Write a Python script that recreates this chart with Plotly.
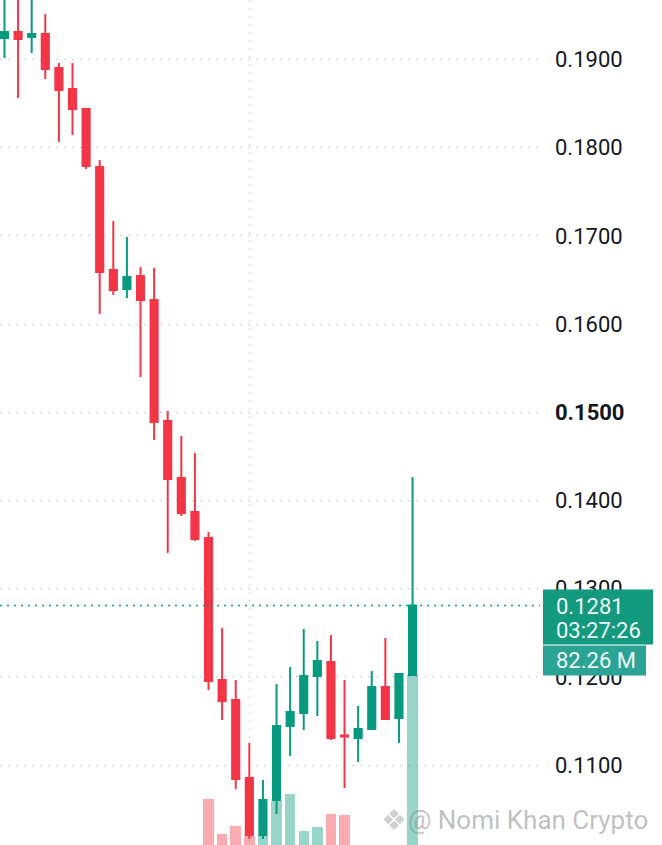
import plotly.graph_objects as go

# candle data (index = bar position on the chart)
bar_idx = list(range(31))
open_ = [0.19244, 0.19312, 0.19255, 0.19289, 0.18904, 0.18666, 0.18439, 0.17781, 0.16613, 0.16398,
         0.16545, 0.16273, 0.14901, 0.14256, 0.13870, 0.13575, 0.11966, 0.11739, 0.10853, 0.10207,
         0.10604, 0.11443, 0.11591, 0.12010, 0.12168, 0.11335, 0.11307, 0.11409, 0.11885, 0.11534,
         0.12021]
high = [0.19850, 0.19900, 0.19850, 0.19516, 0.18960, 0.18960, 0.18450, 0.17861, 0.17169, 0.16988,
        0.16647, 0.16636, 0.15015, 0.14731, 0.14539, 0.13643, 0.12554, 0.11966, 0.11250, 0.10831,
        0.11919, 0.12112, 0.12543, 0.12407, 0.12475, 0.11966, 0.11670, 0.12067, 0.12441, 0.12040,
        0.14266]
low = [0.19017, 0.18563, 0.19074, 0.18779, 0.18065, 0.18144, 0.17758, 0.16114, 0.16330, 0.16296,
       0.15400, 0.14686, 0.13405, 0.13825, 0.13541, 0.11851, 0.11511, 0.10729, 0.10162, 0.10162,
       0.10445, 0.11103, 0.11398, 0.11557, 0.11284, 0.10741, 0.11035, 0.11398, 0.11510, 0.11250,
       0.12021]
close = [0.19312, 0.19232, 0.19289, 0.18892, 0.18654, 0.18439, 0.17792, 0.16591, 0.16387, 0.16534,
         0.16273, 0.14890, 0.14244, 0.13859, 0.13564, 0.11954, 0.11727, 0.10842, 0.10207, 0.10604,
         0.11443, 0.11602, 0.12010, 0.12180, 0.11307, 0.11324, 0.11409, 0.11885, 0.11522, 0.12033,
         0.1281]
# volume in millions, None where the bar sits below the visible area
volume_m = [None] * 15 + [32.5, 18.5, 21.7, 17.7, 18.1, 31.7, 34.5, 19.7, 21.3, 26.5, 26.1,
                          None, None, None, None, 82.26]

price_ticks = [0.11, 0.12, 0.13, 0.14, 0.15, 0.16, 0.17, 0.18, 0.19]
bold_tick = 0.15
countdown = "03:27:26"
watermark = "@ Nomi Khan Crypto"

UP = '#089981'
DOWN = '#f23645'
UP_VOL = 'rgba(8,153,129,0.42)'
DOWN_VOL = 'rgba(242,54,69,0.42)'

fig = go.Figure()

vol_colors = [UP_VOL if c >= o else DOWN_VOL for o, c in zip(open_, close)]
fig.add_trace(go.Bar(
    x=bar_idx, y=[v * 1e6 if v is not None else None for v in volume_m],
    marker=dict(color=vol_colors, line=dict(width=0)),
    width=0.77, yaxis='y2', hoverinfo='skip', showlegend=False
))

fig.add_trace(go.Candlestick(
    x=bar_idx, open=open_, high=high, low=low, close=close,
    increasing=dict(line=dict(color=UP, width=2), fillcolor=UP),
    decreasing=dict(line=dict(color=DOWN, width=2), fillcolor=DOWN),
    whiskerwidth=0, showlegend=False
))

last = close[-1]
ticktext = [f"<b>{t:.4f}</b>" if abs(t - bold_tick) < 1e-9 else f"{t:.4f}" for t in price_ticks]

fig.update_layout(
    width=662, height=845,
    margin=dict(l=0, r=122, t=0, b=0),
    paper_bgcolor='white', plot_bgcolor='white',
    font=dict(family='Roboto', color='#131722'),
    boxgap=0.25,
    bargap=0,
    xaxis=dict(
        range=[-0.33, 39.37], rangeslider=dict(visible=False),
        tickvals=[18], showticklabels=False, ticks='',
        showgrid=True, gridcolor='#cfcfcf', griddash='2px,6px', gridwidth=1,
        zeroline=False, showline=False, fixedrange=True
    ),
    yaxis=dict(
        side='right', range=[0.100941, 0.196746],
        tickvals=price_ticks, ticktext=ticktext, ticks='',
        tickfont=dict(size=22, color='#131722', family='Roboto'),
        ticklabelstandoff=14,
        showgrid=True, gridcolor='#cfcfcf', griddash='2px,6px', gridwidth=1,
        zeroline=False, showline=False
    ),
    yaxis2=dict(
        overlaying='y', range=[14.04e6, 353.1e6], visible=False, showgrid=False
    ),
)

# dotted last-price line
fig.add_shape(type='line', xref='paper', x0=0, x1=1, yref='y', y0=last, y1=last,
              line=dict(color=UP, width=1.5, dash='2px,5px'), layer='above')

# last price / countdown box and volume box on the price scale
fig.add_shape(type='rect', xref='paper', xsizemode='pixel', xanchor=1, x0=3, x1=113,
              yref='y', ysizemode='pixel', yanchor=last, y0=16, y1=-39,
              fillcolor='#12997e', line=dict(width=0), layer='above')
fig.add_shape(type='rect', xref='paper', xsizemode='pixel', xanchor=1, x0=3, x1=106,
              yref='y', ysizemode='pixel', yanchor=last, y0=-40, y1=-70,
              fillcolor='#2ba395', line=dict(width=0), layer='above')

label_font = dict(size=22, color='#eef8f5', family='Roboto')
fig.add_annotation(xref='paper', x=1, xanchor='left', xshift=14, yref='y', y=last, yshift=-1,
                   text=f"{last:.4f}", showarrow=False, font=label_font)
fig.add_annotation(xref='paper', x=1, xanchor='left', xshift=14, yref='y', y=last, yshift=-25,
                   text=countdown, showarrow=False, font=label_font)
fig.add_annotation(xref='paper', x=1, xanchor='left', xshift=14, yref='y', y=last, yshift=-55,
                   text=f"{volume_m[-1]:.2f} M", showarrow=False, font=label_font)

# watermark with logo
fig.add_annotation(xref='paper', yref='paper', x=1.2037, y=0.029, xanchor='right', yanchor='middle',
                   text=watermark, showarrow=False,
                   font=dict(size=26, color='rgba(150,150,150,0.6)', family='Roboto'))
fig.add_annotation(xref='paper', yref='paper', x=0.7575, y=0.029, xanchor='right', yanchor='middle',
                   text="❖", showarrow=False,
                   font=dict(size=29, color='rgba(150,150,150,0.45)', family='DejaVu Sans'))

fig.write_html("out.html", config={'displayModeBar': False},
               post_script="document.body.style.margin='0';")
